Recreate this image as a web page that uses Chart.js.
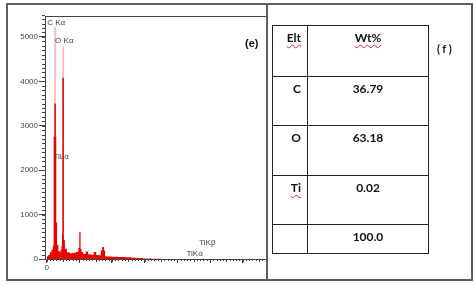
<!DOCTYPE html>
<html>
<head>
<meta charset="utf-8">
<script src="https://cdn.jsdelivr.net/npm/chart.js@4.4.1/dist/chart.umd.min.js"></script>
<style>
  html, body { margin: 0; padding: 0; background: #fff; }
  #wrap { position: relative; width: 474px; height: 286px; overflow: hidden; background: #fff; }
  #spec { position: absolute; left: 0; top: 0; }
  .frame { position: absolute; left: 6px; top: 3px; width: 463px; height: 274px; border: 2px solid #5e5e5e; pointer-events: none; }
  .divider { position: absolute; left: 266px; top: 3px; width: 2px; height: 278px; background: #5e5e5e; }
  .tag { position: absolute; font-weight: bold; color: #111; }
  table { position: absolute; left: 272px; top: 25px; border-collapse: collapse; table-layout: fixed;
          font-family: Lato, "Open Sans", sans-serif; font-weight: bold; font-size: 12px; color: #111; }
  td { border: 1px solid #222; vertical-align: top; padding: 4px 6px 0 6px; box-sizing: border-box; }
  td.e { text-align: right; width: 35px; }
  td.w { text-align: center; width: 121px; }
  .sp { text-decoration: underline wavy #e02424; text-decoration-thickness: 1px; text-underline-offset: 2px; }
</style>
</head>
<body>
<div id="wrap">
  <canvas id="spec" width="268" height="286"></canvas>
  <div class="divider"></div>
  <div class="frame"></div>
  <div class="tag" style="left:245px; top:37px; font-family:'Liberation Sans', Arial, sans-serif; font-size:11px;">(e)</div>
  <table id="tbl"></table>
  <div class="tag" style="left:437px; top:42px; font-family:Lato, sans-serif; font-size:11px; letter-spacing:2.5px;">(f)</div>
</div>
<script>
// ---- spectrum data (energy in keV, counts) ----
const energies = [0.00, 0.05, 0.10, 0.15, 0.19, 0.215, 0.235, 0.25, 0.265, 0.285, 0.295, 0.32, 0.36, 0.40, 0.43, 0.455,
                  0.47, 0.48, 0.495, 0.51, 0.53, 0.56, 0.62, 0.70, 0.80, 0.90, 0.97, 1.00, 1.04, 1.07, 1.12,
                  1.20, 1.27, 1.35, 1.44, 1.52, 1.60, 1.66, 1.70, 1.76, 1.79, 1.85, 2.00, 2.20, 2.40, 2.60, 2.75,
                  2.95, 3.20, 3.50, 6.74];
const counts   = [60, 90, 150, 210, 300, 2750, 3500, 5230, 3500, 2750, 820, 320, 180, 150, 200, 300,
                  540, 4080, 4780, 4080, 420, 230, 150, 130, 140, 160, 250, 600, 230, 150, 110,
                  170, 105, 95, 160, 90, 85, 190, 270, 190, 60, 55, 50, 45, 40, 30, 20,
                  12, 6, 0, 0];

// ---- peak labels (text, energy keV, counts) ----
const peakNames   = ['C Kα', 'O Kα', 'TiLα', 'TiKβ', 'TiKα'];
const peakEnergy  = [0.02, 0.26, 0.21, 4.67, 4.28];
const peakCounts  = [5320, 4910, 2300, 360, 110];

// ---- axis ----
const xMin = -0.049, xMax = 6.744, xMinor = 0.1;
const xTickValues = [0, 1, 2, 3, 4, 5, 6];
const xTickLabels = ['0', '', '', '', '', '', ''];
const yMin = 0, yMax = 5470, yMinor = 100;
const yTickValues = [0, 1000, 2000, 3000, 4000, 5000];
const yTickLabels = ['0', '1000', '2000', '3000', '4000', '5000'];

// ---- table ----
const tblElements = ['Elt', 'C', 'O', 'Ti', ''];
const tblWeights  = ['Wt%', '36.79', '63.18', '0.02', '100.0'];
const tblSpell    = [true, false, false, true, false];
const rowHeights  = [51, 49, 50, 49, 29];

(function buildTable(){
  const t = document.getElementById('tbl');
  tblElements.forEach((el, i) => {
    const tr = document.createElement('tr');
    tr.style.height = rowHeights[i] + 'px';
    const a = document.createElement('td'); a.className = 'e';
    a.innerHTML = el ? (tblSpell[i] ? '<span class="sp">' + el + '</span>' : el) : '';
    const b = document.createElement('td'); b.className = 'w';
    b.innerHTML = (i === 0 ? '<span class="sp">' + tblWeights[i] + '</span>' : tblWeights[i]);
    tr.appendChild(a); tr.appendChild(b); t.appendChild(tr);
  });
})();

const decor = {
  id: 'decor',
  afterDraw(chart) {
    const ctx = chart.ctx, xs = chart.scales.x, ys = chart.scales.y, ca = chart.chartArea;
    ctx.save();
    ctx.strokeStyle = '#444'; ctx.lineWidth = 1;
    ctx.beginPath();
    const ny = Math.round((yMax - yMin) / yMinor);
    for (let i = 0; i <= ny; i++) {
      const py = Math.round(ys.getPixelForValue(yMin + i * yMinor)) + 0.5;
      ctx.moveTo(ca.left - 3, py); ctx.lineTo(ca.left, py);
    }
    const nx = Math.floor((xMax - 0) / xMinor + 1e-6);
    for (let i = 0; i <= nx; i++) {
      const px = Math.round(xs.getPixelForValue(i * xMinor)) + 0.5;
      const len = (i % 5 === 0) ? 3 : 2;
      ctx.moveTo(px, ca.bottom); ctx.lineTo(px, ca.bottom + len);
    }
    ctx.moveTo(ca.left, Math.round(ca.top) + 0.5); ctx.lineTo(ca.right, Math.round(ca.top) + 0.5);
    ctx.stroke();
    ctx.fillStyle = '#3a3f48';
    ctx.font = '8px "Liberation Sans", Arial, sans-serif';
    ctx.textBaseline = 'middle'; ctx.textAlign = 'left';
    peakNames.forEach((n, i) => {
      ctx.fillText(n, xs.getPixelForValue(peakEnergy[i]), ys.getPixelForValue(peakCounts[i]));
    });
    ctx.restore();
  }
};

new Chart(document.getElementById('spec'), {
  type: 'line',
  data: {
    datasets: [{
      data: energies.map((e, i) => ({ x: e, y: counts[i] })),
      stepped: true,
      fill: 'origin',
      backgroundColor: 'rgb(236,0,0)',
      borderColor: 'rgba(0,0,0,0)',
      borderWidth: 0,
      pointRadius: 0
    }]
  },
  options: {
    responsive: false,
    animation: false,
    devicePixelRatio: 1,
    layout: { padding: { top: 16, right: 1, left: 0, bottom: 0 } },
    plugins: { legend: { display: false }, tooltip: { enabled: false } },
    scales: {
      x: {
        type: 'linear', min: xMin, max: xMax,
        border: { color: '#444', width: 1 },
        grid: { drawOnChartArea: false, tickLength: 4, color: '#444' },
        ticks: { autoSkip: false, maxRotation: 0, padding: 0,
                 color: '#444', font: { size: 8, family: '"Liberation Sans", Arial, sans-serif' },
                 callback: (v, i) => xTickLabels[i] },
        afterBuildTicks(s) { s.ticks = xTickValues.map(v => ({ value: v })); },
        afterFit(s) { s.height = 27; }
      },
      y: {
        type: 'linear', min: yMin, max: yMax,
        border: { color: '#444', width: 1 },
        grid: { drawOnChartArea: false, tickLength: 6, color: '#444' },
        ticks: { autoSkip: false, padding: 1,
                 color: '#444', font: { size: 8, family: '"Liberation Sans", Arial, sans-serif' },
                 callback: (v, i) => yTickLabels[i] },
        afterBuildTicks(s) { s.ticks = yTickValues.map(v => ({ value: v })); },
        afterFit(s) { s.width = 45; }
      }
    }
  },
  plugins: [decor]
});
</script>
</body>
</html>
